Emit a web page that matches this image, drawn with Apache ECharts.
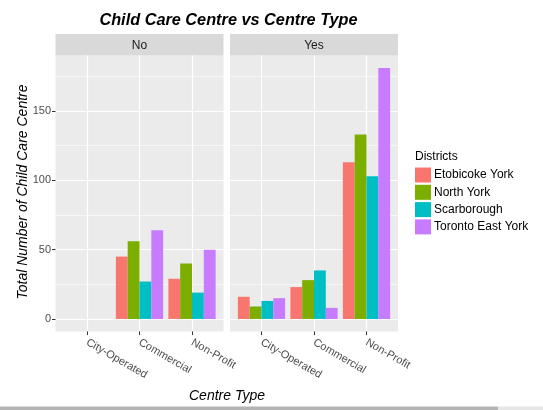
<!DOCTYPE html>
<html>
<head>
<meta charset="utf-8">
<script src="https://cdn.jsdelivr.net/npm/echarts@6/dist/echarts.min.js"></script>
<style>
html,body{margin:0;padding:0;background:#fff;}
#chart{width:543px;height:410px;}
</style>
</head>
<body>
<div id="chart"></div>
<script>
// ---- data ----
const categories = ['City-Operated', 'Commercial', 'Non-Profit'];
const panels = ['No', 'Yes'];
const districts = ['Etobicoke York', 'North York', 'Scarborough', 'Toronto East York'];
const colors = ['#F8766D', '#7CAE00', '#00BFC4', '#C77CFF'];
// values per district, per category (City-Operated, Commercial, Non-Profit)
const noEtobicoke = [0, 45, 29];
const noNorthYork = [0, 56, 40];
const noScarborough = [0, 27, 19];
const noTorontoEast = [0, 64, 50];
const yesEtobicoke = [16, 23, 113];
const yesNorthYork = [9, 28, 133];
const yesScarborough = [13, 35, 103];
const yesTorontoEast = [15, 8, 181];
const yMajorTicks = [0, 50, 100, 150];
const yMinorTicks = [25, 75, 125, 175];

const panelValues = [
  [noEtobicoke, noNorthYork, noScarborough, noTorontoEast],
  [yesEtobicoke, yesNorthYork, yesScarborough, yesTorontoEast]
];

const FONT = 'Liberation Sans, Arial, sans-serif';
const chart = echarts.init(document.getElementById('chart'), null, {renderer: 'canvas'});

const panelLeft = [55.5, 230];
const panelTop = 55.5, panelW = 168, panelH = 276;
const stripTop = 34;

const yMax = 181;
const yMin = -yMax * 0.05, yTop = yMax * 1.05;

const grids = [], xAxes = [], yAxes = [], series = [];
panelLeft.forEach((l, p) => {
  grids.push({left: l, top: panelTop, width: panelW, height: panelH, show: true,
    backgroundColor: '#EBEBEB', borderWidth: 0, containLabel: false});
  xAxes.push({
    type: 'value', gridIndex: p, min: -0.6, max: categories.length - 0.4, position: 'bottom',
    axisLine: {show: false, onZero: false},
    axisTick: {show: true, customValues: [0, 1, 2], length: 3.5, inside: false,
      lineStyle: {color: '#333333', width: 1}},
    axisLabel: {show: true, customValues: [0, 1, 2], rotate: -30, margin: 10,
      color: '#4D4D4D', fontSize: 11, fontFamily: FONT,
      formatter: v => categories[Math.round(v)] || ''},
    splitLine: {show: true, lineStyle: {color: '#FFFFFF', width: 1.2}}
  });
  yAxes.push({
    type: 'value', gridIndex: p, min: yMin, max: yTop, position: 'left',
    axisLine: {show: false, onZero: false},
    axisTick: {show: p === 0, customValues: yMajorTicks, length: 3.5,
      lineStyle: {color: '#333333', width: 1}},
    axisLabel: {show: p === 0, customValues: yMajorTicks, margin: 4.5,
      color: '#4D4D4D', fontSize: 11, fontFamily: FONT},
    splitLine: {show: true, lineStyle: {color: '#FFFFFF', width: 1.2}},
    z: 1
  });
  yAxes.push({
    type: 'value', gridIndex: p, min: yMin, max: yTop, position: 'right',
    axisLine: {show: false, onZero: false},
    axisTick: {show: false, customValues: yMinorTicks},
    axisLabel: {show: false, customValues: yMinorTicks},
    splitLine: {show: true, lineStyle: {color: '#FFFFFF', width: 0.6}},
    z: 0
  });
  districts.forEach((d, k) => {
    series.push({
      type: 'bar', name: d, xAxisIndex: p, yAxisIndex: p * 2,
      data: panelValues[p][k].map((v, i) => [i, v]),
      itemStyle: {color: colors[k]},
      barGap: '0%', barCategoryGap: '10%',
      emphasis: {disabled: true}, silent: true, animation: false
    });
  });
});

const graphics = [];
panelLeft.forEach((l, p) => {
  graphics.push({type: 'rect', left: l, top: stripTop,
    shape: {width: panelW, height: panelTop - stripTop}, style: {fill: '#D9D9D9'}, silent: true});
  graphics.push({type: 'text', x: l + panelW / 2, y: stripTop + (panelTop - stripTop) / 2 + 0.5,
    style: {text: panels[p], fill: '#1A1A1A', font: '12px ' + FONT, textAlign: 'center', textVerticalAlign: 'middle'}});
});
graphics.push({type: 'text', x: 228.5, y: 21,
  style: {text: 'Child Care Centre vs Centre Type', fill: '#000',
    font: 'italic bold 16.3px ' + FONT, textAlign: 'center', textVerticalAlign: 'middle'}});
graphics.push({type: 'text', x: 23, y: 192, rotation: Math.PI / 2,
  style: {text: 'Total Number of Child Care Centre', fill: '#000',
    font: 'italic 14px ' + FONT, textAlign: 'center', textVerticalAlign: 'middle'}});
graphics.push({type: 'text', x: 227, y: 396,
  style: {text: 'Centre Type', fill: '#000',
    font: 'italic 14px ' + FONT, textAlign: 'center', textVerticalAlign: 'middle'}});
graphics.push({type: 'text', x: 415, y: 157,
  style: {text: 'Districts', fill: '#000',
    font: '12px ' + FONT, textAlign: 'left', textVerticalAlign: 'middle'}});
graphics.push({type: 'rect', left: 0, top: 406.5, shape: {width: 498, height: 4}, style: {fill: '#B4B4B4'}, silent: true});
graphics.push({type: 'rect', left: 498, top: 406.5, shape: {width: 45, height: 4}, style: {fill: '#E6E6E6'}, silent: true});

chart.setOption({
  animation: false,
  backgroundColor: '#FFFFFF',
  textStyle: {fontFamily: FONT},
  grid: grids,
  xAxis: xAxes,
  yAxis: yAxes,
  legend: {
    data: districts, orient: 'vertical', left: 415, top: 167.5, padding: 0,
    icon: 'rect', itemWidth: 16, itemHeight: 15, itemGap: 2.3,
    selectedMode: false,
    textStyle: {color: '#000', fontSize: 12, fontFamily: FONT, padding: [0, 0, 0, -2]}
  },
  graphic: graphics,
  series: series
});
</script>
</body>
</html>
